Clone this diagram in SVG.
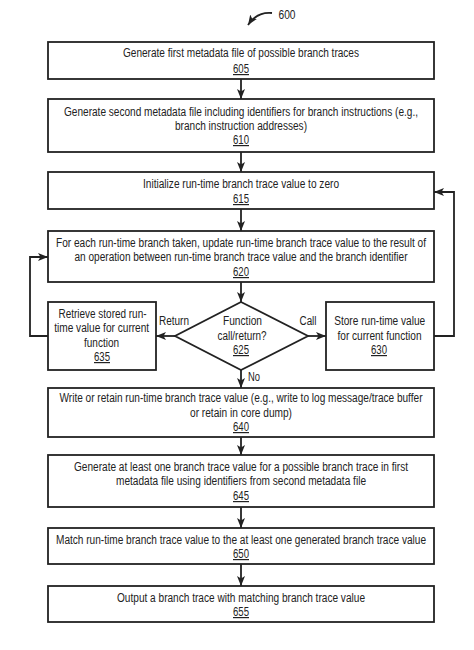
<svg xmlns="http://www.w3.org/2000/svg" width="474" height="650" viewBox="0 0 474 650">
<style>
.box{fill:#fff;stroke:#222;stroke-width:1.8}
.t{font-family:"Liberation Sans",Arial,sans-serif;font-size:12px;fill:#222;text-anchor:middle}
.n{text-decoration:underline}
.c{fill:none;stroke:#222;stroke-width:1.8}
</style>
<defs>
<marker id="ah" markerUnits="userSpaceOnUse" markerWidth="10" markerHeight="10" viewBox="0 0 10 10" refX="10" refY="5" orient="auto">
<path d="M0,1 L10,5 L0,9 L2.5,5 z" fill="#222"/>
</marker>
</defs>
<rect width="474" height="650" fill="#fff"/>
<g id="label600">
<text class="t" x="287" y="19" textLength="17" lengthAdjust="spacingAndGlyphs">600</text>
</g>
<g id="connectors">
<path class="c" d="M272,13 C262,12 254,16 248,25" marker-end="url(#ah)"/>
<path class="c" d="M241,79 V99" marker-end="url(#ah)"/>
<path class="c" d="M241,152 V172" marker-end="url(#ah)"/>
<path class="c" d="M241,209 V231" marker-end="url(#ah)"/>
<path class="c" d="M241,282 V302" marker-end="url(#ah)"/>
<path class="c" d="M241,370 V388" marker-end="url(#ah)"/>
<path class="c" d="M241,437 V455" marker-end="url(#ah)"/>
<path class="c" d="M241,507 V528" marker-end="url(#ah)"/>
<path class="c" d="M241,564 V586" marker-end="url(#ah)"/>
<path class="c" d="M175,336 H156" marker-end="url(#ah)"/>
<path class="c" d="M308,336 H326" marker-end="url(#ah)"/>
<path class="c" d="M48,336 H30 V257 H48" marker-end="url(#ah)"/>
<path class="c" d="M434,336 H454 V192 H434" marker-end="url(#ah)"/>
<text class="t" x="174" y="325" textLength="30" lengthAdjust="spacingAndGlyphs">Return</text>
<text class="t" x="308" y="325" textLength="17" lengthAdjust="spacingAndGlyphs">Call</text>
<text class="t" x="254" y="381" textLength="12" lengthAdjust="spacingAndGlyphs">No</text>
</g>
<g id="n605">
<rect class="box" x="48" y="42" width="386" height="37"/>
<text class="t" x="241" y="57" textLength="236" lengthAdjust="spacingAndGlyphs">Generate first metadata file of possible branch traces</text>
<text class="t n" x="241" y="73" textLength="16" lengthAdjust="spacingAndGlyphs">605</text>
</g>
<g id="n610">
<rect class="box" x="48" y="99" width="386" height="53"/>
<text class="t" x="241" y="116" textLength="354" lengthAdjust="spacingAndGlyphs">Generate second metadata file including identifiers for branch instructions (e.g.,</text>
<text class="t" x="241" y="130" textLength="132" lengthAdjust="spacingAndGlyphs">branch instruction addresses)</text>
<text class="t n" x="241" y="144" textLength="16" lengthAdjust="spacingAndGlyphs">610</text>
</g>
<g id="n615">
<rect class="box" x="48" y="172" width="386" height="37"/>
<text class="t" x="241" y="188" textLength="196" lengthAdjust="spacingAndGlyphs">Initialize run-time branch trace value to zero</text>
<text class="t n" x="241" y="203" textLength="16" lengthAdjust="spacingAndGlyphs">615</text>
</g>
<g id="n620">
<rect class="box" x="48" y="231" width="386" height="51"/>
<text class="t" x="241" y="247" textLength="370" lengthAdjust="spacingAndGlyphs">For each run-time branch taken, update run-time branch trace value to the result of</text>
<text class="t" x="241" y="261" textLength="333" lengthAdjust="spacingAndGlyphs">an operation between run-time branch trace value and the branch identifier</text>
<text class="t n" x="241" y="276" textLength="16" lengthAdjust="spacingAndGlyphs">620</text>
</g>
<g id="n625">
<polygon class="box" points="241,302 308,336 241,370 175,336"/>
<text class="t" x="242.5" y="325" textLength="39" lengthAdjust="spacingAndGlyphs">Function</text>
<text class="t" x="242" y="340" textLength="49" lengthAdjust="spacingAndGlyphs">call/return?</text>
<text class="t n" x="241" y="354" textLength="16" lengthAdjust="spacingAndGlyphs">625</text>
</g>
<g id="n635">
<rect class="box" x="48" y="302" width="108" height="68"/>
<text class="t" x="102.5" y="318" textLength="88" lengthAdjust="spacingAndGlyphs">Retrieve stored run-</text>
<text class="t" x="101.7" y="332" textLength="95" lengthAdjust="spacingAndGlyphs">time value for current</text>
<text class="t" x="101.5" y="347" textLength="35" lengthAdjust="spacingAndGlyphs">function</text>
<text class="t n" x="102" y="361" textLength="16" lengthAdjust="spacingAndGlyphs">635</text>
</g>
<g id="n630">
<rect class="box" x="326" y="302" width="108" height="68"/>
<text class="t" x="379.7" y="325" textLength="91" lengthAdjust="spacingAndGlyphs">Store run-time value</text>
<text class="t" x="379.5" y="340" textLength="84" lengthAdjust="spacingAndGlyphs">for current function</text>
<text class="t n" x="379" y="354" textLength="16" lengthAdjust="spacingAndGlyphs">630</text>
</g>
<g id="n640">
<rect class="box" x="48" y="388" width="386" height="49"/>
<text class="t" x="241" y="402" textLength="363" lengthAdjust="spacingAndGlyphs">Write or retain run-time branch trace value (e.g., write to log message/trace buffer</text>
<text class="t" x="241" y="417" textLength="102" lengthAdjust="spacingAndGlyphs">or retain in core dump)</text>
<text class="t n" x="241" y="431" textLength="16" lengthAdjust="spacingAndGlyphs">640</text>
</g>
<g id="n645">
<rect class="box" x="48" y="455" width="386" height="52"/>
<text class="t" x="241" y="471" textLength="334" lengthAdjust="spacingAndGlyphs">Generate at least one branch trace value for a possible branch trace in first</text>
<text class="t" x="241" y="485" textLength="250" lengthAdjust="spacingAndGlyphs">metadata file using identifiers from second metadata file</text>
<text class="t n" x="241" y="500" textLength="16" lengthAdjust="spacingAndGlyphs">645</text>
</g>
<g id="n650">
<rect class="box" x="48" y="528" width="386" height="36"/>
<text class="t" x="241" y="543.5" textLength="370" lengthAdjust="spacingAndGlyphs">Match run-time branch trace value to the at least one generated branch trace value</text>
<text class="t n" x="241" y="558" textLength="16" lengthAdjust="spacingAndGlyphs">650</text>
</g>
<g id="n655">
<rect class="box" x="48" y="586" width="386" height="36"/>
<text class="t" x="241" y="601.5" textLength="248" lengthAdjust="spacingAndGlyphs">Output a branch trace with matching branch trace value</text>
<text class="t n" x="241" y="616" textLength="16" lengthAdjust="spacingAndGlyphs">655</text>
</g>
</svg>
